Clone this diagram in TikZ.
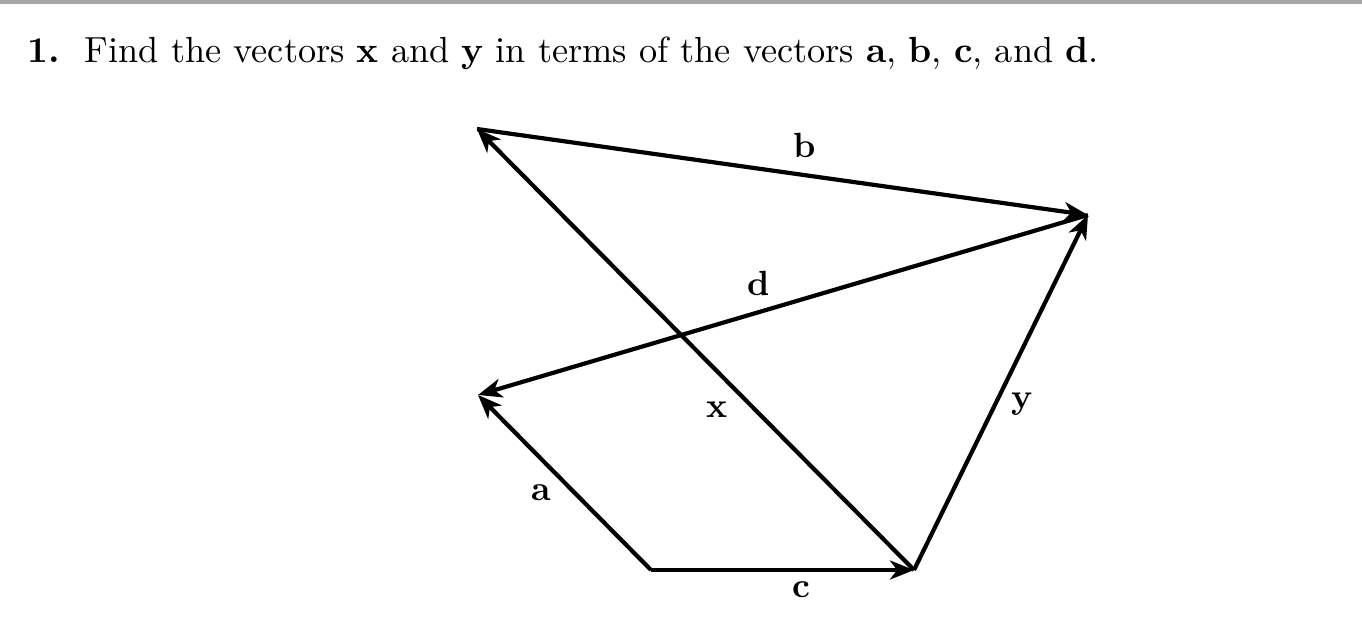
\documentclass[tikz,border=0pt]{standalone}
\usetikzlibrary{arrows.meta}
\begin{document}
\begin{tikzpicture}[x=1pt,y=-1pt,
  vec/.style={line width=4.2pt,-{Stealth[length=24pt,width=19pt,inset=7pt]}},
  lbl/.style={font=\normalsize\bfseries,inner sep=0pt,scale=3.5,transform shape}]
\useasboundingbox (0,0) rectangle (1362,643);
\fill[gray!70] (0,0) rectangle (1362,3.5);
\node[anchor=base west,inner sep=0pt,font=\normalsize,scale=3.63,transform shape] (title) at (27,62)
  {\textbf{1.}\hspace{0.68em}Find the vectors \textbf{x} and \textbf{y} in terms of the vectors \textbf{a}, \textbf{b}, \textbf{c}, and \textbf{d}.};
\coordinate (P1) at (477,129);
\coordinate (P2) at (1088,215);
\coordinate (P3) at (478,395);
\coordinate (P4) at (651,570);
\coordinate (P5) at (914,570);
\draw[vec] (P1) -- (P2);
\draw[vec] (P2) -- (P3);
\draw[vec] (P4) -- (P3);
\draw[vec] (P4) -- (P5);
\draw[vec] (P5) -- (P1);
\draw[vec] (P5) -- (P2);
\node[lbl] (lb) at (805,145) {b};
\node[lbl] (ld) at (759,283) {d};
\node[lbl] (lx) at (717,410) {x};
\node[lbl] (ly) at (1022,404) {y};
\node[lbl] (la) at (541,493) {a};
\node[lbl] (lc) at (801,590) {c};
\end{tikzpicture}
\end{document}
